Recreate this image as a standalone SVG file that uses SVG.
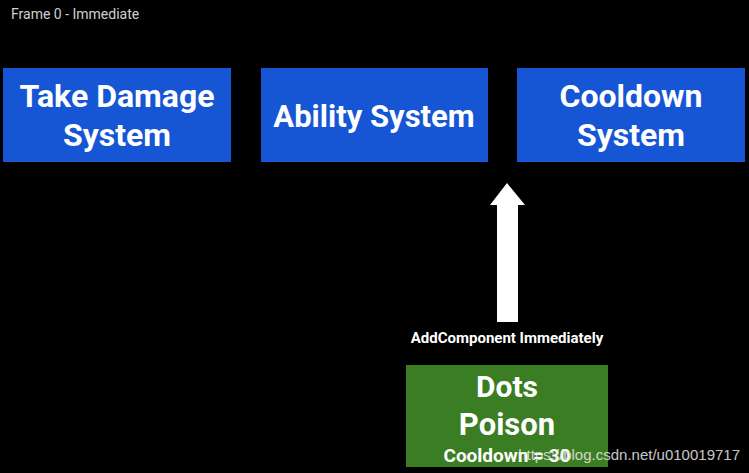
<svg xmlns="http://www.w3.org/2000/svg" width="749" height="473" viewBox="0 0 749 473">
<style>
.sys{fill:#1656d4}
.t{font-family:Roboto,"Liberation Sans",sans-serif;font-weight:bold;fill:#fff;text-anchor:middle}
</style>
<rect width="749" height="473" fill="#000"/>
<text x="11" y="19" font-family="Roboto,'Liberation Sans',sans-serif" font-size="14" fill="#d0d0d0">Frame 0 - Immediate</text>
<g id="take-damage"><rect class="sys" x="3" y="68" width="228" height="94"/>
<text class="t" x="117" y="107" font-size="32">Take Damage</text><text class="t" x="117" y="146" font-size="32">System</text></g>
<g id="ability"><rect class="sys" x="261" y="68" width="227" height="94"/>
<text class="t" x="374" y="127" font-size="31">Ability System</text></g>
<g id="cooldown"><rect class="sys" x="517" y="68" width="228" height="94"/>
<text class="t" x="631" y="107" font-size="32">Cooldown</text><text class="t" x="631" y="146" font-size="32">System</text></g>
<g id="connectors"><polygon points="507,183 525,205 518,205 518,322 497,322 497,205 490,205" fill="#fff"/></g>
<text x="507" y="343" class="t" font-size="15" fill="#e0e0e0">AddComponent Immediately</text>
<g id="dots-poison"><rect x="406" y="365" width="202" height="102" fill="#3b7d23"/>
<text class="t" x="507" y="397" font-size="30">Dots</text><text class="t" x="507" y="435" font-size="31">Poison</text>
<text class="t" x="507" y="462" font-size="19">Cooldown = 30</text></g>
<text x="740" y="460" text-anchor="end" font-family="'Liberation Sans',sans-serif" font-size="15" fill="#e8e8e8" opacity="0.85">https://blog.csdn.net/u010019717</text>
</svg>
